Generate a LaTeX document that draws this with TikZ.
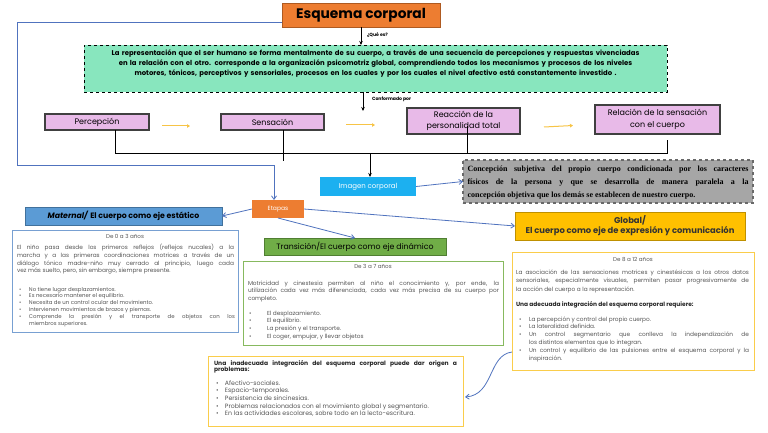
\documentclass[tikz,border=0pt]{standalone}
\usepackage{fontspec}
\setmainfont{Poppins}
\newfontfamily\grayserif{Liberation Serif}
\usetikzlibrary{arrows.meta,calc}
\definecolor{titleor}{RGB}{237,125,49}
\definecolor{titleorb}{RGB}{174,90,33}
\definecolor{mint}{RGB}{136,230,190}
\definecolor{pinkbox}{RGB}{232,186,232}
\definecolor{yarr}{RGB}{247,196,70}
\definecolor{cyanbox}{RGB}{28,176,240}
\definecolor{graybox}{RGB}{166,166,166}
\definecolor{grayboxb}{RGB}{105,105,105}
\definecolor{matblue}{RGB}{91,155,213}
\definecolor{matblueb}{RGB}{65,113,156}
\definecolor{matline}{RGB}{120,160,210}
\definecolor{trgreen}{RGB}{112,173,71}
\definecolor{trgreenb}{RGB}{80,126,50}
\definecolor{trline}{RGB}{135,185,95}
\definecolor{glyel}{RGB}{255,192,0}
\definecolor{glyelb}{RGB}{191,144,0}
\definecolor{glline}{RGB}{250,205,75}
\definecolor{conblue}{RGB}{80,115,190}
\definecolor{txtgray}{RGB}{85,85,85}
\newcommand\itm[2]{\hangindent=#1\hangafter=1\noindent\makebox[#1][l]{•}#2\par}
\hyphenpenalty=10000
\exhyphenpenalty=10000
\tolerance=10000
\begin{document}
\begin{tikzpicture}[x=1pt,y=-1pt,
  every node/.style={inner sep=0pt,outer sep=0pt},
  boxn/.style={rectangle,inner sep=0pt,align=center},
  pinkn/.style={boxn,draw=black!75,line width=1.1pt,fill=pinkbox,font=\fontsize{8}{11.5}\selectfont},
  blk/.style={draw=black,line width=0.8pt},
  blkarr/.style={blk,-{Stealth[length=4pt,width=3.5pt]}},
  yarrow/.style={draw=yarr,line width=1pt,-{Triangle[length=3pt,width=3.5pt]}},
  barrow/.style={draw=conblue,line width=0.8pt,-{Straight Barb[length=3.5pt,width=5pt]}},
  ctext/.style={font=\fontsize{5.8}{7.8}\selectfont,text=txtgray,align=justify,anchor=base west},
  chead/.style={font=\fontsize{5.6}{7}\selectfont,text=txtgray,anchor=base},
  small/.style={font=\fontsize{4.6}{6}\selectfont,anchor=base west}]
\useasboundingbox (0,0) rectangle (768,433);
\fill[white] (0,0) rectangle (768,433);

% title and definition
\node[boxn,draw=titleorb,line width=0.6pt,fill=titleor,minimum width=158pt,minimum height=24pt,font=\bfseries\fontsize{13.8}{16}\selectfont] (title) at (361,15) {Esquema corporal};
\node[boxn,draw=black,dashed,line width=0.8pt,fill=mint,minimum width=583pt,minimum height=47pt] (green) at (375.5,68.5) {};
\node[font=\bfseries\fontsize{6.9}{10}\selectfont,text width=600pt,align=center,anchor=base] (greent) at (375.5,56) {La representación que el ser humano se forma mentalmente de su cuerpo, a través de una secuencia de percepciones y respuestas vivenciadas\\ en la relación con el otro. corresponde a la organización psicomotriz global, comprendiendo todos los mecanismos y procesos de los niveles\\ motores, tónicos, perceptivos y sensoriales, procesos en los cuales y por los cuales el nivel afectivo está constantemente investido .};
\node[small,font=\bfseries\fontsize{4.6}{6}\selectfont] (quees) at (367,37) {¿Qué es?};
\draw[blkarr] (title.south) -- (title.south |- green.north);

\coordinate (conf) at (363,111);
\draw[blkarr] (green.south -| conf) -- (conf);
\node[small,font=\bfseries\fontsize{4.6}{6}\selectfont] (confl) at (372,100.5) {Conformado por};

% pink row
\node[pinkn,minimum width=104pt,minimum height=16pt] (perc) at (97,122) {Percepción};
\node[pinkn,minimum width=103pt,minimum height=16pt] (sens) at (272.5,122) {Sensación};
\node[pinkn,minimum width=113pt,minimum height=26pt] (reac) at (463.5,121) {Reacción de la\\personalidad total};
\node[pinkn,minimum width=125pt,minimum height=29pt] (rela) at (657.5,119.5) {Relación de la sensación\\con el cuerpo};
\draw[yarrow] ($(perc.east)+(13,4)$) -- ($(sens.west)+(-31,4)$);
\draw[yarrow] ($(sens.east)+(22,3)$) -- ($(reac.west)+(-32,4)$);
\draw[yarrow] ($(reac.east)+(24,6)$) -- ($(rela.west)+(-22,6)$);

% bracket
\coordinate (brk) at (370,153);
\draw[blk] ($(perc.south)+(18,0)$) |- ($(rela.south)+(10,19)$) -- ($(rela.south)+(10,6)$);
\draw[blk] ($(sens.south)+(10.5,0)$) -- ($(sens.south)+(10.5,31)$);
\draw[blk] ($(reac.south)+(3.5,-8)$) -- ($(reac.south)+(3.5,19)$);

% imagen corporal
\node[boxn,fill=cyanbox,text=white,minimum width=96pt,minimum height=19pt,font=\fontsize{7}{9}\selectfont] (imagen) at (368,186.5) {Imagen corporal};
\draw[blkarr] (brk) -- (imagen.north -| brk);
\node[boxn,draw=grayboxb,dashed,line width=1.6pt,fill=graybox,minimum width=290pt,minimum height=43pt] (gray) at (608,181.5) {};
\node[font=\grayserif\bfseries\fontsize{8}{13}\selectfont,text width=281pt,align=justify,anchor=base west] (grayt) at (467.5,171.5) {Concepción subjetiva del propio cuerpo condicionada por los caracteres\linebreak físicos de la persona y que se desarrolla de manera paralela a la\linebreak concepción objetiva que los demás se establecen de nuestro cuerpo.\par};
\draw[barrow] (imagen.east) -- (gray.west);

% etapas
\node[boxn,fill=titleor,text=white,minimum width=52pt,minimum height=18pt,font=\fontsize{6}{8}\selectfont] (etapas) at (278,209) {Etapas};
\coordinate (fA) at (17,22);
\coordinate (fB) at (17,165);
\draw[barrow] ($(title.south west)+(0,-5)$) -- (fA) -- (fB) -| ($(etapas.north)+(-4,0)$);

% headings
\node[boxn,draw=matblueb,line width=0.6pt,fill=matblue,minimum width=197pt,minimum height=18pt,font=\bfseries\fontsize{7.8}{9}\selectfont] (mat) at (123.5,216) {\textit{Maternal/} El cuerpo como eje estático};
\node[boxn,draw=trgreenb,line width=0.6pt,fill=trgreen,minimum width=182pt,minimum height=17pt,font=\fontsize{7.8}{9}\selectfont] (tra) at (355,246.5) {Transición/El cuerpo como eje dinámico};
\node[boxn,draw=glyelb,line width=0.6pt,fill=glyel,minimum width=230pt,minimum height=28pt,font=\bfseries\fontsize{8.4}{10}\selectfont,text=black!80] (glo) at (630,226) {Global/\\El cuerpo como eje de expresión y comunicación};
\draw[barrow] (etapas.west) -- (mat.east);
\draw[barrow] (etapas.south) -- (tra.north);
\draw[barrow] (etapas.east) -- (glo.west);

% maternal content
\node[boxn,draw=matline,line width=0.9pt,minimum width=226pt,minimum height=102pt] (matc) at (125,281) {};
\node[chead] (math) at (125,238) {De 0 a 3 años};
\node[ctext,text width=217pt] (matp) at (17,249.5) {El niño pasa desde los primeros reflejos (reflejos nucales) a la\linebreak marcha y a las primeras coordinaciones motrices a través de un\linebreak diálogo tónico madre-niño muy cerrado al principio, luego cada\linebreak vez más suelto, pero, sin embargo, siempre presente.\par};
\node[ctext,text width=216pt,font=\fontsize{5.4}{6.8}\selectfont] (matb) at (19,291) {\itm{10pt}{No tiene lugar desplazamientos.}\itm{10pt}{Es necesario mantener el equilibrio.}\itm{10pt}{Necesita de un control ocular del movimiento.}\itm{10pt}{Intervienen movimientos de brazos y piernas.}\itm{10pt}{Comprende la presión y el transporte de objetos con los\linebreak miembros superiores.}};

% transicion content
\node[boxn,draw=trline,line width=0.9pt,minimum width=260pt,minimum height=84pt] (trac) at (373,303) {};
\node[chead] (trah) at (373,268.5) {De 3 a 7 años};
\node[ctext,text width=251pt] (trap) at (248,285) {Motricidad y cinestesia permiten al niño el conocimiento y, por ende, la\linebreak utilización cada vez más diferenciada, cada vez más precisa de su cuerpo por\linebreak completo.\par};
\node[ctext,text width=250pt,font=\fontsize{5.8}{7.7}\selectfont] (trab) at (249,315) {\itm{18pt}{El desplazamiento.}\itm{18pt}{El equilibrio.}\itm{18pt}{La presión y el transporte.}\itm{18pt}{El coger, empujar, y llevar objetos}};

% global content
\node[boxn,draw=glline,line width=0.9pt,minimum width=242pt,minimum height=118pt] (gloc) at (633,311) {};
\node[chead] (gloh) at (633,261) {De 8 a 12 años};
\node[ctext,text width=233pt,font=\fontsize{5.8}{8.5}\selectfont] (glop) at (516,274) {La asociación de las sensaciones motrices y cinestésicas a los otros datos\linebreak sensoriales, especialmente visuales, permiten pasar progresivamente de\linebreak la acción del cuerpo a la representación.\par};
\node[ctext,text=black!85,font=\bfseries\fontsize{5.9}{7}\selectfont,align=left] (glob) at (516,306) {Una adecuada integración del esquema corporal requiere:};
\node[ctext,text width=230pt,font=\fontsize{5.8}{7.8}\selectfont] (glol) at (519,321) {\itm{10pt}{La percepción y control del propio cuerpo.}\itm{10pt}{La lateralidad definida.}\itm{10pt}{Un control segmentario que conlleva la independización de\linebreak los distintos elementos que lo integran.}\itm{10pt}{Un control y equilibrio de las pulsiones entre el esquema corporal y la\linebreak inspiración.}};

% bottom box
\node[boxn,draw=glline,line width=0.9pt,minimum width=255pt,minimum height=70pt] (bot) at (335.5,391) {};
\node[ctext,text=black!85,text width=243pt,font=\bfseries\fontsize{6}{6.8}\selectfont] (botp) at (214,365) {Una inadecuada integración del esquema corporal puede dar origen a\linebreak problemas:\par};
\node[ctext,text width=242pt,font=\fontsize{6.2}{7.7}\selectfont] (botl) at (216,385) {\itm{9pt}{Afectivo-sociales.}\itm{9pt}{Espacio-temporales.}\itm{9pt}{Persistencia de sincinesias.}\itm{9pt}{Problemas relacionados con el movimiento global y segmentario.}\itm{9pt}{En las actividades escolares, sobre todo en la lecto-escritura.}};
\draw[barrow] ($(gloc.south west)+(0,-18)$) .. controls (488,355) and (494,395) .. ($(bot.east)+(2,6)$);
\end{tikzpicture}
\end{document}
